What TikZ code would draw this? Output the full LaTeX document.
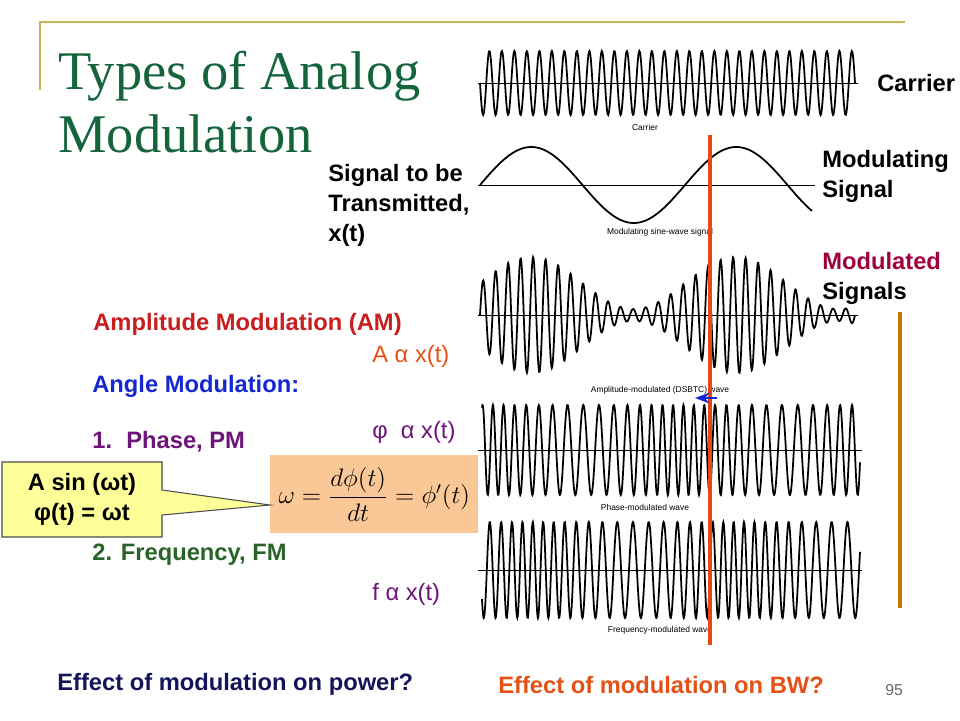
\documentclass[tikz,border=0pt]{standalone}
\usepackage{amsmath}
\usepackage{fontspec}
\setmainfont{Liberation Serif}
\setsansfont{Liberation Sans}
\usetikzlibrary{arrows.meta,positioning}
\definecolor{frameGold}{RGB}{200,180,90}
\definecolor{titleGreen}{RGB}{20,100,60}
\definecolor{amRed}{RGB}{200,30,30}
\definecolor{alphaOrange}{RGB}{230,80,20}
\definecolor{angleBlue}{RGB}{20,40,210}
\definecolor{pmPurple}{RGB}{110,20,120}
\definecolor{fmGreen}{RGB}{40,100,40}
\definecolor{modRed}{RGB}{160,0,60}
\definecolor{navyText}{RGB}{20,20,90}
\definecolor{calloutYellow}{RGB}{255,255,153}
\definecolor{eqPeach}{RGB}{250,200,150}
\definecolor{barOrange}{RGB}{200,120,0}

\begin{document}
\begin{tikzpicture}[x=0.02cm,y=-0.02cm,>=Stealth,font=\sffamily\bfseries\fontsize{13.5}{17}\selectfont,
    lbl/.style={anchor=west,align=left,inner sep=0pt},
    plain/.style={font=\sffamily\fontsize{13.5}{17}\selectfont},
    wave/.style={line width=1pt,black},
    axisLine/.style={black,line width=0.5pt},
    caption/.style={font=\sffamily\fontsize{4.8}{5}\selectfont,inner sep=0pt}]
    \useasboundingbox (0,0) rectangle (960,720);

    % slide frame
    \draw[frameGold,line width=0.8pt] (40,90) -- (40,22) -- (905,22);
    \node[lbl,font=\rmfamily\fontsize{31}{36}\selectfont,text=titleGreen] (titleNode) at (58,102) {Types of Analog\\Modulation};

    % carrier
    \draw[axisLine] (478,83) -- (858,83);
    \draw[wave] plot[domain=480:855,samples=700] (\x,{83+32*sin(2*pi*(\x-480)/12.5 r)});
    \node[caption] (carrierCap) at (645,127) {Carrier};

    % modulating signal
    \draw[axisLine] (478,185) -- (815,185);
    \draw[wave] plot[domain=480:812,samples=300] (\x,{185-38*sin(2*pi*(\x-480)/205 r)});
    \node[caption] (modCap) at (660,232) {Modulating sine-wave signal};

    % AM
    \draw[axisLine] (478,315) -- (858,315);
    \draw[wave] plot[domain=480:855,samples=800] (\x,{315-(32+26*sin(2*pi*(\x-480)/205 r))*sin(2*pi*(\x-480)/12.5 r)});
    \node[caption] (amCap) at (660,390) {Amplitude-modulated (DSBTC) wave};

    % PM
    \draw[axisLine] (478,450) -- (862,450);
    \draw[wave] plot[domain=482:860,samples=900] (\x,{450-45*sin((2*pi*(\x-480)/12.5+3.5*sin(2*pi*(\x-480)/205 r)) r)});
    \node[caption] (pmCap) at (645,507) {Phase-modulated wave};

    % FM
    \draw[axisLine] (478,570) -- (862,570);
    \draw[wave] plot[domain=482:860,samples=900] (\x,{570-48*sin((2*pi*(\x-480)/12.5-3.5*cos(2*pi*(\x-480)/205 r)) r)});
    \node[caption] (fmCap) at (660,630) {Frequency-modulated wave};

    % markers
    \draw[alphaOrange!90!red,line width=1.8pt] (710,135) -- (710,645);
    \coordinate (arrowStart) at (717,398);
    \coordinate (arrowEnd) at (695,398);
    \draw[->,angleBlue,line width=1.2pt] (arrowStart) -- (arrowEnd);
    \draw[barOrange,line width=2pt] (900,312) -- (900,608);

    % right labels
    \node[lbl] (carrierLabel) at (877,83) {Carrier};
    \node[lbl] (modLabel) at (822,176) {Modulating\\Signal};
    \node[lbl] (modulatedLabel) at (822,278) {\textcolor{modRed}{Modulated}\\Signals};
    \node[lbl] (signalLabel) at (328,205) {Signal to be\\Transmitted,\\x(t)};

    % left labels
    \node[lbl,text=amRed] (amLabel) at (93,324) {Amplitude Modulation (AM)};
    \node[lbl,plain,text=alphaOrange] (amRel) at (372,356) {A α x(t)};
    \node[lbl,text=angleBlue] (angleLabel) at (92,386) {Angle Modulation:};
    \node[lbl,text=pmPurple] (pmLabel) at (92,442) {1.\hspace{0.6em}Phase, PM};
    \node[lbl,plain,text=pmPurple] (pmRel) at (372,432) {φ\ \ α x(t)};
    \node[lbl,text=fmGreen] (fmLabel) at (92,555) {2. Frequency, FM};
    \node[lbl,plain,text=pmPurple] (fmRel) at (372,594) {f α x(t)};

    % equation box
    \node[fill=eqPeach,minimum width=208*0.02cm,minimum height=78*0.02cm,anchor=north west,inner sep=0pt,font=\Large] (eqBox) at (270,455) {$\omega=\dfrac{d\phi(t)}{dt}=\phi'(t)$};

    % callout
    \coordinate (calloutTip) at (270,505);
    \draw[fill=calloutYellow,draw=black!70,line width=0.6pt] (2,462) -- (162,462) -- (162,490) -- (calloutTip) -- (162,515) -- (162,537) -- (2,537) -- cycle;
    \node[align=center] (calloutText) at (82,499) {A sin (ωt)\\φ(t) = ωt};

    % bottom
    \node[lbl,text=navyText] (powerQ) at (57,684) {Effect of modulation on power?};
    \node[lbl,text=alphaOrange] (bwQ) at (498,685) {Effect of modulation on BW?};
    \node[lbl,text=black!60,font=\sffamily\fontsize{9}{10}\selectfont] (pageNum) at (885,690) {95};
\end{tikzpicture}
\end{document}
